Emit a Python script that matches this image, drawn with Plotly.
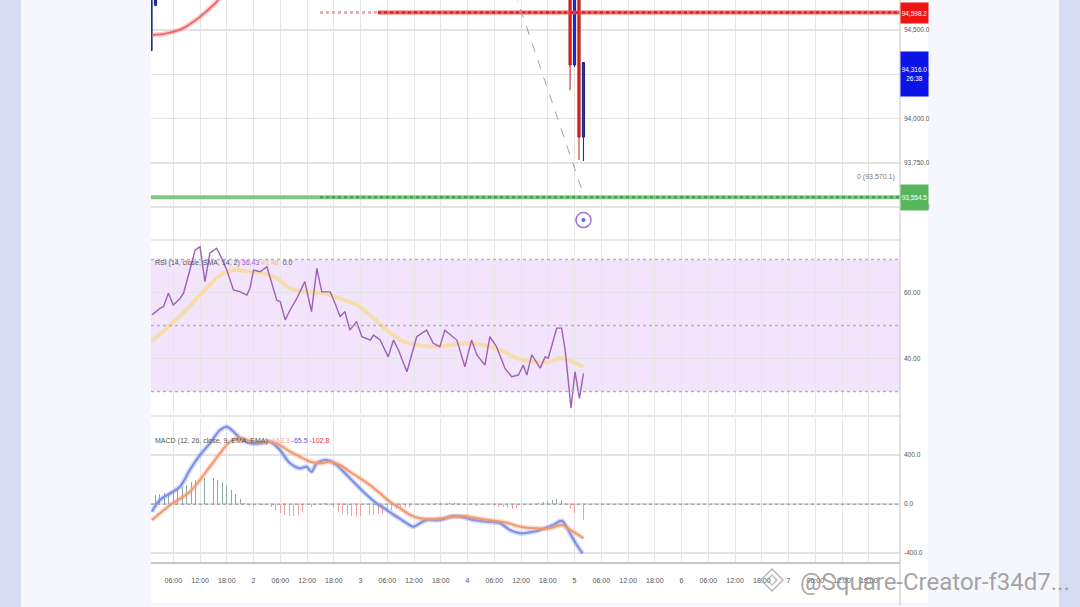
import plotly.graph_objects as go

W, H = 1080, 607

# ---------------- data ----------------
tick_hours = [6, 12, 18, 24, 30, 36, 42, 48, 54, 60, 66, 72, 78, 84, 90, 96,
              102, 108, 114, 120, 126, 132, 138, 144, 150, 156, 162]
tick_text = ["06:00", "12:00", "18:00", "2", "06:00", "12:00", "18:00", "3",
             "06:00", "12:00", "18:00", "4", "06:00", "12:00", "18:00", "5",
             "06:00", "12:00", "18:00", "6", "06:00", "12:00", "18:00", "7",
             "06:00", "12:00", "18:00"]

price_ticks = [94500, 94250, 94000, 93750, 93500]
price_tick_text = ["94,500.0", "94,250.0", "94,000.0", "93,750.0", "93,500.0"]

candle_hours = [1, 2, 95, 96, 97, 98]
candle_open = [94385, 94640, 94900, 94302, 94850, 93895]
candle_high = [94750, 94800, 94950, 94900, 94900, 94316]
candle_low = [94380, 94635, 94161, 94290, 93765, 93760]
candle_close = [94700, 94780, 94302, 94800, 93895, 94316]

ma_hours = [1.2, 4.5, 8.2, 12.0, 15.0, 16.1, 17.2]
ma_values = [94472, 94481, 94510, 94575, 94641, 94670, 94700]

resist_price = 94598.2
resist_faint_hours = [38.9, 51.9]
resist_solid_hours = [51.9, 169]
support_price = 93554.5
support_solid_hours = [1, 169]
support_dotted_hours = [38.9, 169]

fib_hours = [80, 98]
fib_prices = [94907, 93570.1]

icon_hour = [98]
icon_price = [93426]

rsi_hours = [1.2, 3.0, 3.8, 4.9, 6.0, 7.5, 8.3, 9.4, 10.1, 10.9, 12.0, 13.1, 14.2,
             15.7, 16.5, 18.0, 19.5, 21.0, 22.5, 23.2, 24.0, 25.5, 27.0, 29.2,
             30.0, 31.1, 32.2, 33.7, 35.5, 37.0, 38.2, 39.3, 41.2, 42.3, 43.4,
             44.5, 45.6, 47.1, 48.3, 50.2, 50.9, 52.4, 54.2, 55.4, 56.5, 58.4,
             59.8, 60.6, 62.8, 64.3, 65.8, 66.9, 69.6, 71.4, 72.9, 74.1, 75.9,
             77.0, 78.5, 80.4, 81.9, 83.4, 84.5, 85.3, 86.4, 88.3, 89.4, 90.1,
             92.0, 93.1, 93.9, 95.2, 96.1, 97.1, 98.0]
rsi_values = [53.2, 55.2, 55.7, 59.8, 56.2, 58.2, 59.8, 65.8, 68.8, 72.9, 73.9,
              63.3, 71.9, 73.4, 71.4, 66.8, 60.8, 60.2, 59.2, 61.3, 66.8, 66.3,
              67.8, 57.7, 57.2, 51.7, 54.7, 58.2, 63.3, 54.2, 67.3, 60.2, 60.2,
              56.7, 52.7, 54.2, 48.6, 51.2, 46.6, 45.6, 47.1, 45.6, 40.5, 45.6,
              42.6, 36.0, 42.6, 46.6, 48.6, 44.6, 43.6, 48.6, 45.6, 37.5, 45.6,
              41.1, 38.0, 46.6, 43.6, 37.0, 34.5, 35.0, 38.0, 35.0, 41.1, 37.1,
              40.5, 40.1, 49.2, 49.2, 42.6, 25.0, 36.0, 27.9, 35.5]

rsi_ma_hours = [1.0, 4.5, 8.2, 12.0, 15.7, 18.0, 20.2, 23.2, 26.2, 29.2, 32.2,
                35.9, 39.7, 43.4, 47.1, 50.1, 53.1, 56.9, 60.6, 64.3, 68.1, 71.8,
                75.5, 79.3, 83.0, 86.8, 90.5, 92.7, 98.0]
rsi_ma_values = [45.1, 49.2, 53.7, 59.2, 64.3, 66.3, 66.8, 66.3, 65.8, 64.3, 61.3,
                 60.2, 59.8, 58.2, 56.2, 53.2, 49.6, 45.6, 44.1, 43.6, 44.1, 44.6,
                 44.1, 42.6, 40.1, 39.0, 39.0, 40.1, 37.5]
rsi_bands = [70, 50, 30]
rsi_ticks = [60, 40]
rsi_tick_text = ["60.00", "40.00"]

macd_hours = [1.2, 3.0, 5.3, 7.5, 9.7, 12.0, 14.2, 16.5, 18.0, 19.5, 21.0, 23.2,
              25.5, 27.7, 29.9, 32.2, 34.4, 35.9, 37.0, 38.2, 40.4, 42.6, 44.9,
              47.1, 49.4, 51.6, 53.9, 56.1, 58.4, 59.8, 61.3, 62.8, 65.8, 68.8,
              71.1, 73.3, 76.3, 79.3, 81.5, 83.8, 86.8, 88.3, 91.2, 93.1, 94.2,
              95.4, 96.5, 97.8]
macd_values = [-61, 34, 89, 143, 279, 402, 497, 606, 633, 592, 538, 497, 497, 510,
               442, 334, 293, 306, 265, 334, 361, 320, 238, 157, 75, 7, -47, -102,
               -156, -184, -156, -129, -129, -96, -107, -129, -143, -156, -210,
               -238, -224, -210, -170, -135, -184, -265, -333, -401]

signal_hours = [1.2, 5.3, 9.7, 14.2, 16.5, 18.7, 21.0, 23.2, 25.5, 27.7, 29.9,
                32.2, 34.4, 36.7, 38.9, 41.2, 43.4, 45.6, 47.9, 50.1, 52.4, 54.6,
                56.9, 59.1, 61.3, 64.3, 68.1, 71.1, 74.1, 77.8, 80.8, 83.8, 87.5,
                90.5, 93.1, 95.0, 96.9, 98.0]
signal_values = [-129, -7, 102, 306, 416, 510, 538, 518, 505, 510, 483, 429, 388,
                 347, 334, 347, 320, 265, 211, 157, 89, 20, -33, -88, -115, -123,
                 -107, -96, -115, -135, -151, -184, -197, -197, -170, -210, -251,
                 -278]

hist_hours = list(range(1, 99))
hist_values = [70, 75, 80, 90, 95, 105, 120, 140, 160, 180, 195, 205, 210, 215,
               210, 200, 180, 150, 115, 80, 40, 10, -15, -25, -15, -5, 5, -20,
               -45, -70, -90, -100, -95, -85, -60, -40, -25, -10, 5, 10, -10,
               -35, -60, -80, -90, -100, -105, -100, -95, -90, -85, -80, -70,
               -60, -50, -40, -30, -25, -20, -15, -10, -5, 0, 5, 10, 8, 5, 10,
               12, 8, 2, -5, -10, -15, -10, -5, -10, -15, -20, -25, -35, -40,
               -30, -20, -10, 0, 5, 10, 15, 25, 35, 45, 35, 10, -40, -75, -110,
               -125]
macd_ticks = [400, 0, -400]
macd_tick_text = ["400.0", "0.0", "-400.0"]

# ---------------- helpers (pixel -> paper) ----------------
def px(x):
    return x / W


def py(y):
    return 1 - y / H


NARROW = "Liberation Sans Narrow, Liberation Sans, Arial, sans-serif"
X_RANGE = [1, 169]

fig = go.Figure()

# ---- price pane ----
fig.add_trace(go.Scatter(x=ma_hours, y=ma_values, mode="lines", line=dict(color="rgba(240,120,120,0.35)", width=5, shape="spline"), xaxis="x", yaxis="y", hoverinfo="skip"))
fig.add_trace(go.Scatter(x=ma_hours, y=ma_values, mode="lines", line=dict(color="#ee6a6a", width=2, shape="spline"), xaxis="x", yaxis="y"))

fig.add_trace(go.Scatter(x=support_solid_hours, y=[support_price] * 2, mode="lines", line=dict(color="#7fc67f", width=4), xaxis="x", yaxis="y"))
fig.add_trace(go.Scatter(x=support_dotted_hours, y=[support_price] * 2, mode="lines", line=dict(color="#3f9a46", width=2, dash="dot"), xaxis="x", yaxis="y"))

fig.add_trace(go.Scatter(x=resist_faint_hours, y=[resist_price] * 2, mode="lines", line=dict(color="rgba(230,120,120,0.6)", width=3, dash="dot"), xaxis="x", yaxis="y"))
fig.add_trace(go.Scatter(x=resist_solid_hours, y=[resist_price] * 2, mode="lines", line=dict(color="rgba(240,70,70,0.85)", width=4), xaxis="x", yaxis="y"))
fig.add_trace(go.Scatter(x=resist_solid_hours, y=[resist_price] * 2, mode="lines", line=dict(color="#c62020", width=2, dash="dot"), xaxis="x", yaxis="y"))

fig.add_trace(go.Scatter(x=fib_hours, y=fib_prices, mode="lines", line=dict(color="#a0a0a0", width=1, dash="dash"), xaxis="x", yaxis="y"))

fig.add_trace(go.Candlestick(
    x=candle_hours, open=candle_open, high=candle_high, low=candle_low, close=candle_close,
    increasing=dict(line=dict(color="#1a237e", width=1), fillcolor="#1f2bd8"),
    decreasing=dict(line=dict(color="#b71c1c", width=1), fillcolor="#e52222"),
    whiskerwidth=0, xaxis="x", yaxis="y"))

fig.add_trace(go.Scatter(x=icon_hour, y=icon_price, mode="markers",
                         marker=dict(symbol="circle-open", size=15, color="#a070d8", line=dict(width=1.5, color="#a070d8")),
                         xaxis="x", yaxis="y"))
fig.add_trace(go.Scatter(x=icon_hour, y=icon_price, mode="markers",
                         marker=dict(symbol="circle", size=4, color="#5c6bd8"),
                         xaxis="x", yaxis="y"))

# ---- RSI pane ----
fig.add_trace(go.Scatter(x=rsi_ma_hours, y=rsi_ma_values, mode="lines", line=dict(color="#f7dcae", width=4, shape="spline"), xaxis="x2", yaxis="y2"))
fig.add_trace(go.Scatter(x=rsi_hours, y=rsi_values, mode="lines", line=dict(color="#9d5fb8", width=1.4), xaxis="x2", yaxis="y2"))

# ---- MACD pane ----
fig.add_trace(go.Bar(x=hist_hours, y=hist_values, width=0.2,
                     marker=dict(color=["#8aa9a9" if v >= 0 else "#f0a0a0" for v in hist_values], line=dict(width=0)),
                     xaxis="x3", yaxis="y3"))
fig.add_trace(go.Scatter(x=macd_hours, y=macd_values, mode="lines", line=dict(color="rgba(125,144,232,0.35)", width=5, shape="spline"), xaxis="x3", yaxis="y3"))
fig.add_trace(go.Scatter(x=macd_hours, y=macd_values, mode="lines", line=dict(color="#7a8ee6", width=2, shape="spline"), xaxis="x3", yaxis="y3"))
fig.add_trace(go.Scatter(x=signal_hours, y=signal_values, mode="lines", line=dict(color="rgba(242,160,123,0.35)", width=5, shape="spline"), xaxis="x3", yaxis="y3"))
fig.add_trace(go.Scatter(x=signal_hours, y=signal_values, mode="lines", line=dict(color="#f09870", width=2, shape="spline"), xaxis="x3", yaxis="y3"))

# ---------------- axes ----------------
x_dom = [px(151), px(900)]
grid_x = dict(range=X_RANGE, domain=x_dom, tickvals=tick_hours, showgrid=True,
              gridcolor="#e6e6e6", gridwidth=1, zeroline=False, showticklabels=False,
              fixedrange=True)
yax_common = dict(side="right", showline=False, zeroline=False, ticks="",
                  tickfont=dict(family=NARROW, size=6.5, color="#555"),
                  gridcolor="#e3e3e3", gridwidth=1.5, ticklabelstandoff=3)

fig.update_layout(
    width=W, height=H,
    margin=dict(l=0, r=0, t=0, b=0),
    paper_bgcolor="#d7dbf2",
    plot_bgcolor="rgba(0,0,0,0)",
    showlegend=False,
    bargap=0,
    hovermode=False,
    xaxis=dict(**grid_x, anchor="y", rangeslider=dict(visible=False)),
    xaxis2=dict(**grid_x, anchor="y2", matches="x"),
    xaxis3=dict(range=X_RANGE, domain=x_dom, tickvals=tick_hours, ticktext=tick_text,
                showgrid=True, gridcolor="#e6e6e6", gridwidth=1, zeroline=False,
                showline=True, linecolor="#c8c8c8", linewidth=2, ticks="",
                tickfont=dict(family=NARROW, size=7, color="#555"),
                ticklabelstandoff=11, anchor="y3", matches="x"),
    yaxis=dict(**yax_common, domain=[py(240), 1], range=[93313.6, 94669.5],
               tickvals=price_ticks, ticktext=price_tick_text, anchor="x"),
    yaxis2=dict(**yax_common, domain=[py(414), py(241)], range=[23.2, 75.6],
                tickvals=rsi_ticks, ticktext=rsi_tick_text, anchor="x2"),
    yaxis3=dict(**yax_common, domain=[py(562), py(418)], range=[-471.8, 703.7],
                tickvals=macd_ticks, ticktext=macd_tick_text, anchor="x3"),
)

# ---------------- shapes ----------------
shapes = [
    dict(type="rect", xref="paper", yref="paper", x0=px(21), x1=px(1059), y0=0, y1=1,
         fillcolor="#f5f7fd", line=dict(width=0), layer="below"),
    dict(type="rect", xref="paper", yref="paper", x0=px(151), x1=px(928), y0=py(603), y1=1,
         fillcolor="#ffffff", line=dict(width=0), layer="below"),
    dict(type="rect", xref="x2 domain", yref="y2", x0=0, x1=1, y0=rsi_bands[2], y1=rsi_bands[0],
         fillcolor="#f2e4fb", line=dict(width=0), layer="below"),
    dict(type="line", xref="paper", yref="paper", x0=px(151), x1=px(900), y0=py(240), y1=py(240),
         line=dict(color="#e6e6e6", width=2)),
    dict(type="line", xref="paper", yref="paper", x0=px(151), x1=px(900), y0=py(416), y1=py(416),
         line=dict(color="#e6e6e6", width=2)),
    dict(type="line", xref="paper", yref="paper", x0=px(900), x1=px(900), y0=py(605), y1=1,
         line=dict(color="#c4c4c4", width=1)),
    dict(type="line", xref="x3 domain", yref="y3", x0=0, x1=1, y0=0, y1=0,
         line=dict(color="#a8a8a8", width=1.5, dash="dot")),
]
for b in rsi_bands:
    shapes.append(dict(type="line", xref="x2 domain", yref="y2", x0=0, x1=1, y0=b, y1=b,
                       line=dict(color="#bcaecb", width=1.5, dash="dot")))


def P(x, y):
    return f"{px(x):.5f},{py(y):.5f}"


# watermark logo (diamond)
shapes.append(dict(type="path", xref="paper", yref="paper",
                   path=f"M {P(761,580)} L {P(772,569)} L {P(783,580)} L {P(772,591)} Z",
                   line=dict(color="rgba(150,150,150,0.7)", width=1.5)))
shapes.append(dict(type="path", xref="paper", yref="paper",
                   path=f"M {P(767,580)} L {P(772,575)} L {P(777,580)} L {P(772,585)} Z",
                   line=dict(color="rgba(150,150,150,0.7)", width=1.2)))
fig.update_layout(shapes=shapes)

# ---------------- annotations ----------------
LBL = dict(family=NARROW, size=6.5, color="white")
ann = []
ann.append(dict(xref="paper", yref="y", x=px(914), y=resist_price, text="94,598.2",
                showarrow=False, bgcolor="#f01414", font=LBL,
                width=27, height=20, xanchor="center", yanchor="middle", borderpad=0))
ann.append(dict(xref="paper", yref="y", x=px(914), y=candle_close[-1], yshift=12,
                text="94,316.0<br>26:38", showarrow=False, bgcolor="#0a14e6", font=LBL,
                width=27, height=44, xanchor="center", yanchor="top", borderpad=0))
ann.append(dict(xref="paper", yref="y", x=px(914), y=support_price, text="93,554.5",
                showarrow=False, bgcolor="#57b55c", font=LBL,
                width=27, height=25, xanchor="center", yanchor="middle", borderpad=0))
ann.append(dict(xref="paper", yref="y", x=px(897), y=fib_prices[1], yshift=18,
                text="0 (93,570.1)", showarrow=False, xanchor="right",
                font=dict(family=NARROW, size=7, color="#777")))
ann.append(dict(xref="paper", yref="paper", x=px(153), y=py(263), xanchor="left", yanchor="middle",
                showarrow=False, font=dict(family=NARROW, size=7, color="#555"),
                text="RSI (14, close, SMA, 14, 2) <span style='color:#9d5fb8'>36.43</span> "
                     "<span style='color:#f2c46e'>41.46</span>  0.0"))
ann.append(dict(xref="paper", yref="paper", x=px(153), y=py(441), xanchor="left", yanchor="middle",
                showarrow=False, font=dict(family=NARROW, size=7, color="#555"),
                text="MACD (12, 26, close, 9, EMA, EMA) <span style='color:#f4a0a0'>-163.3</span> "
                     "<span style='color:#4a5fe0'>-65.5</span> <span style='color:#e53030'>-102.8</span>"))
ann.append(dict(xref="paper", yref="paper", x=px(935), y=py(582), xanchor="center", yanchor="middle",
                showarrow=False, text="@Square-Creator-f34d7...",
                font=dict(family="Roboto, Arial, sans-serif", size=24, color="rgba(140,140,140,0.8)")))
fig.update_layout(annotations=ann)

fig.write_html("out.html", config={"displayModeBar": False, "staticPlot": True},
               post_script="document.body.style.margin='0';document.body.style.overflow='hidden';")
